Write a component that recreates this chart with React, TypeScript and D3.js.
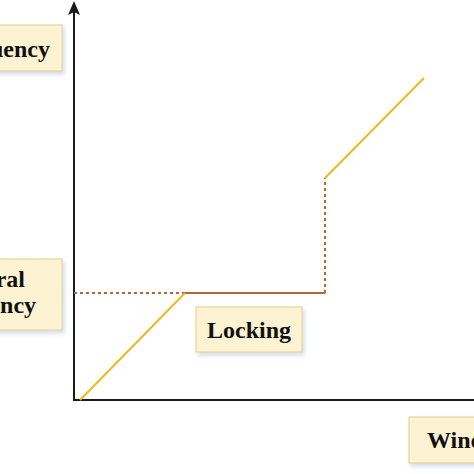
import React, { useEffect, useRef } from "react";
import * as d3 from "d3";

// wind speed (x) and frequency (y) in chart units, 0..100 on both axes
const risingA = [
  [1.5, 0],
  [27.75, 26.75],
];
const lockedDashed = [
  [0, 26.75],
  [27.75, 26.75],
];
const lockedSolid = [
  [27.75, 26.75],
  [62.75, 26.75],
];
const jumpDashed = [
  [62.75, 26.75],
  [62.75, 55.5],
];
const risingB = [
  [62.75, 55.5],
  [87.5, 80.5],
];

// label boxes: [x0, y0, x1, y1] in chart units, text lines, anchor
const labels = [
  { box: [-30, 93.75, -3, 82.25], lines: ["Frequency"], at: [-6, 85.75], anchor: "end" },
  { box: [-30, 35.25, -3, 17.5], lines: ["Natural", "frequency"], at: [-22.25, 28.25], anchor: "middle" },
  { box: [30.5, 23.25, 57, 12], lines: ["Locking"], at: [43.75, 15.5], anchor: "middle" },
  { box: [83.75, -4.25, 125, -15.75], lines: ["Wind speed"], at: [88.25, -12], anchor: "start" },
];

const W = 474;
const H = 474;

export default function App() {
  const svgRef = useRef<SVGSVGElement>(null);

  useEffect(() => {
    const svg = d3.select(svgRef.current);
    svg.selectAll("*").remove();

    const X = d3.scaleLinear().domain([0, 100]).range([74, 474]);
    const Y = d3.scaleLinear().domain([0, 100]).range([400, 0]);

    const defs = svg.append("defs");
    const f = defs
      .append("filter")
      .attr("id", "shadow")
      .attr("x", "-20%")
      .attr("y", "-20%")
      .attr("width", "150%")
      .attr("height", "160%");
    f.append("feDropShadow")
      .attr("dx", 2)
      .attr("dy", 3)
      .attr("stdDeviation", 2)
      .attr("flood-color", "#9fb3d0")
      .attr("flood-opacity", 0.45);

    const line = d3
      .line<number[]>()
      .x((d) => X(d[0]))
      .y((d) => Y(d[1]));

    // axes
    svg
      .append("line")
      .attr("x1", X(0))
      .attr("x2", X(0))
      .attr("y1", Y(0) + 1)
      .attr("y2", 12)
      .attr("stroke", "#1a1a1a")
      .attr("stroke-width", 2);
    svg
      .append("path")
      .attr("d", `M${X(0)},1 L${X(0) - 6},15 L${X(0)},12 L${X(0) + 6},15 Z`)
      .attr("fill", "#1a1a1a");
    svg
      .append("line")
      .attr("x1", X(0) - 1)
      .attr("x2", W)
      .attr("y1", Y(0))
      .attr("y2", Y(0))
      .attr("stroke", "#1a1a1a")
      .attr("stroke-width", 2);

    const brown = "#b8643a";
    const gold = "#eeb91f";

    const draw = (data: number[][], color: string, dash?: string) => {
      const p = svg
        .append("path")
        .attr("d", line(data))
        .attr("fill", "none")
        .attr("stroke", color)
        .attr("stroke-width", 2);
      if (dash) p.attr("stroke-dasharray", dash);
    };

    draw(lockedDashed, brown, "3,3");
    draw(jumpDashed, brown, "3,3");
    draw(lockedSolid, brown);
    draw(risingA, gold);
    draw(risingB, gold);

    // label boxes
    labels.forEach((l) => {
      const [x0, y0, x1, y1] = l.box;
      svg
        .append("rect")
        .attr("x", X(x0))
        .attr("y", Y(y0))
        .attr("width", X(x1) - X(x0))
        .attr("height", Y(y1) - Y(y0))
        .attr("fill", "#fdf3d3")
        .attr("stroke", "#e8d697")
        .attr("stroke-width", 1.2)
        .attr("filter", "url(#shadow)");
      const t = svg
        .append("text")
        .attr("x", X(l.at[0]))
        .attr("y", Y(l.at[1]))
        .attr("text-anchor", l.anchor)
        .attr("font-family", "'Liberation Serif', 'Times New Roman', serif")
        .attr("font-weight", "bold")
        .attr("font-size", 24)
        .attr("fill", "#111");
      l.lines.forEach((s, i) => {
        t.append("tspan")
          .attr("x", X(l.at[0]))
          .attr("dy", i === 0 ? 0 : 26)
          .text(s);
      });
    });
  }, []);

  return (
    <svg
      ref={svgRef}
      width={W}
      height={H}
      style={{ position: "fixed", left: 0, top: 0, background: "#fff" }}
    />
  );
}
